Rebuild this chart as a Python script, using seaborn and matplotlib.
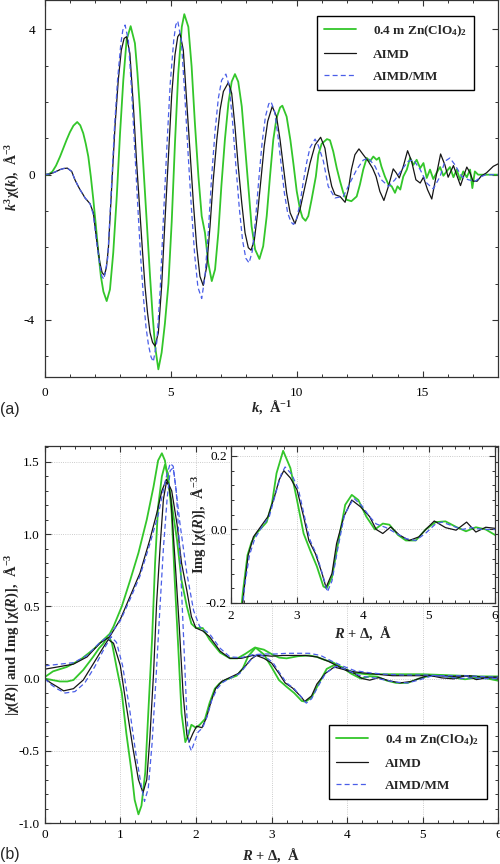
import matplotlib
matplotlib.use("Agg")
import matplotlib.pyplot as plt
import seaborn as sns
from matplotlib.ticker import MultipleLocator, FormatStrFormatter
from matplotlib.lines import Line2D

# ---------------- panel (a): k^3 chi(k) ----------------
k_exp = [0, 0.15, 0.3, 0.45, 0.61, 0.75, 0.87, 1.0, 1.14, 1.29, 1.41, 1.53, 1.63, 1.73, 1.83,
         1.93, 2.03, 2.13, 2.23, 2.33, 2.46, 2.59, 2.72, 2.86, 2.99, 3.12, 3.25, 3.41, 3.58, 3.68,
         3.78, 3.88, 3.98, 4.08, 4.18, 4.28, 4.38, 4.51, 4.64, 4.77, 4.91, 5.04, 5.17, 5.30, 5.44,
         5.54, 5.70, 5.83, 5.96, 6.10, 6.23, 6.36, 6.49, 6.63, 6.76, 6.89, 7.01, 7.15, 7.29, 7.42,
         7.55, 7.68, 7.82, 7.95, 8.08, 8.21, 8.35, 8.52, 8.67, 8.81, 8.94, 9.07, 9.20, 9.34, 9.43,
         9.60, 9.75, 9.87, 10.0, 10.13, 10.23, 10.35, 10.46, 10.59, 10.76, 10.86, 10.99, 11.2, 11.32,
         11.45, 11.59, 11.72, 11.85, 11.98, 12.17, 12.38, 12.51, 12.64, 12.78, 12.91, 13.04, 13.17,
         13.27, 13.36, 13.50, 13.64, 13.77, 13.90, 14.0, 14.11, 14.23, 14.37, 14.50, 14.63, 14.76,
         14.90, 15.03, 15.16, 15.29, 15.42, 15.55, 15.69, 15.82, 15.95, 16.08, 16.22, 16.35, 16.48,
         16.61, 16.75, 16.88, 16.97, 17.07, 17.2, 17.4, 17.7, 18.0]
chi_exp = [0, 0.01, 0.08, 0.25, 0.50, 0.75, 0.96, 1.17, 1.35, 1.45, 1.36, 1.14, 0.85, 0.50, -0.05,
           -0.69, -1.40, -2.15, -2.80, -3.22, -3.48, -3.16, -2.15, -0.60, 1.14, 2.61, 3.71, 4.09, 3.62, 2.80,
           1.79, 0.65, -0.50, -1.65, -2.80, -3.85, -4.72, -5.36, -4.90, -4.10, -3.00, -1.30, 0.88, 2.79, 4.07,
           4.42, 4.07, 2.98, 1.42, -0.05, -1.14, -1.60, -2.43, -2.93, -2.61, -1.60, -0.32, 0.96, 1.97, 2.56,
           2.77, 2.56, 1.88, 0.78, -0.32, -1.42, -2.06, -2.32, -1.97, -1.14, -0.05, 0.96, 1.56, 1.85, 1.90,
           1.60, 0.95, 0.30, -0.45, -0.95, -1.18, -1.27, -1.14, -0.69, -0.05, 0.55, 0.85, 0.98, 0.95,
           0.64, 0.18, -0.18, -0.50, -0.69, -0.73, -0.60, -0.27, 0.14, 0.46, 0.37, 0.50, 0.41,
           0.47, 0.23, -0.05, -0.27, -0.32, -0.50, -0.32, -0.41, -0.05, 0.14, 0.46, 0.27, 0.41,
           0.18, 0.32, -0.09, 0.14, -0.12, 0.05, 0.21, -0.03, 0.09, 0.21, -0.07, 0.14, -0.14,
           0.09, -0.07, 0.14, -0.37, 0.09, 0.0, 0.0, 0.0, 0.0]

k_aimd = [0, 0.2, 0.4, 0.61, 0.75, 0.90, 1.07, 1.20, 1.30, 1.40, 1.50, 1.60, 1.70, 1.80, 1.93, 2.06,
          2.19, 2.28, 2.37, 2.45, 2.53, 2.66, 2.79, 2.92, 3.04, 3.15, 3.25, 3.38, 3.52, 3.64, 3.78,
          3.88, 3.98, 4.08, 4.18, 4.28, 4.38, 4.51, 4.64, 4.77, 4.91, 5.04, 5.17, 5.28, 5.37, 5.50,
          5.63, 5.77, 5.90, 6.03, 6.16, 6.29, 6.43, 6.56, 6.69, 6.83, 6.96, 7.09, 7.29, 7.42, 7.55,
          7.68, 7.82, 7.95, 8.08, 8.19, 8.32, 8.45, 8.58, 8.71, 8.85, 9.03, 9.20, 9.34, 9.47, 9.60,
          9.74, 9.93, 10.13, 10.33, 10.53, 10.73, 10.95, 11.12, 11.25, 11.39, 11.52, 11.72, 11.92,
          12.05, 12.17, 12.31, 12.47, 12.64, 12.84, 13.01, 13.15, 13.30, 13.46, 13.64, 13.83, 13.95,
          14.07, 14.23, 14.40, 14.56, 14.73, 14.90, 15.03, 15.19, 15.36, 15.53, 15.71, 15.88, 16.01,
          16.22, 16.37, 16.50, 16.61, 16.75, 16.88, 17.0, 17.16, 17.32, 17.53, 17.8, 18.0]
chi_aimd = [0, 0.02, 0.07, 0.14, 0.17, 0.18, 0.09, -0.14, -0.28, -0.41, -0.52, -0.64, -0.72, -0.80, -1.05, -1.79,
            -2.43, -2.70, -2.77, -2.55, -2.00, -0.32, 1.33, 2.61, 3.43, 3.75, 3.80, 3.34, 1.88, 0.41, -1.05,
            -2.10, -3.07, -3.80, -4.35, -4.62, -4.72, -4.35, -3.07, -1.30, 0.50, 2.20, 3.30, 3.80, 3.89, 3.43,
            2.06, 0.60, -0.78, -1.97, -2.80, -3.05, -2.52, -1.42, -0.14, 0.96, 1.79, 2.29, 2.54, 2.24, 1.33,
            0.23, -0.78, -1.60, -2.01, -2.08, -1.79, -1.05, -0.14, 0.78, 1.47, 1.88, 1.60, 0.96, 0.23, -0.50,
            -1.05, -1.35, -0.96, -0.32, 0.32, 0.82, 1.03, 0.73, 0.14, -0.32, -0.55, -0.60, -0.76,
            -0.41, 0.14, 0.55, 0.71, 0.55, 0.37, 0.18, -0.05, -0.46, -0.71, -0.32, 0.16, 0.05,
            -0.09, 0.23, 0.66, 0.37, -0.14, -0.23, -0.07, -0.41, -0.67, -0.05, 0.57, 0.27, -0.07,
            0.25, -0.05, -0.30, -0.07, 0.21, 0.05, -0.18, -0.18, -0.04, 0.05, 0.23, 0.30]

k_mm = [0, 0.2, 0.4, 0.61, 0.75, 0.90, 1.07, 1.20, 1.40, 1.60, 1.80, 1.93, 2.06, 2.19, 2.27, 2.35,
        2.50, 2.63, 2.76, 2.89, 3.02, 3.10, 3.19, 3.32, 3.45, 3.58, 3.72, 3.82, 3.92, 4.02, 4.12,
        4.22, 4.31, 4.45, 4.58, 4.71, 4.85, 4.98, 5.12, 5.20, 5.28, 5.42, 5.55, 5.68, 5.82, 5.95,
        6.08, 6.23, 6.36, 6.49, 6.62, 6.76, 6.89, 7.02, 7.19, 7.32, 7.45, 7.58, 7.72, 7.85, 7.98,
        8.11, 8.24, 8.37, 8.50, 8.63, 8.76, 8.89, 8.98, 9.12, 9.25, 9.38, 9.51, 9.64, 9.77, 9.87,
        10.0, 10.13, 10.26, 10.40, 10.53, 10.73, 10.86, 11.06, 11.25, 11.52, 11.85, 12.11, 12.38,
        12.64, 12.84, 13.11, 13.36, 13.64, 13.90, 14.17, 14.43, 14.63, 14.90, 15.16, 15.42, 15.69,
        15.88, 16.08, 16.28, 16.55, 16.81, 17.08, 17.34, 17.5, 18.0]
chi_mm = [0, 0.02, 0.07, 0.14, 0.17, 0.18, 0.09, -0.14, -0.41, -0.64, -0.80, -1.10, -1.85, -2.50, -2.80, -2.88,
          -2.30, -0.60, 1.20, 2.60, 3.60, 3.98, 4.12, 3.70, 2.30, 0.60, -1.20, -2.40, -3.40, -4.20, -4.70,
          -5.02, -5.15, -4.60, -3.20, -1.20, 0.80, 2.50, 3.70, 4.12, 4.23, 3.70, 2.30, 0.70, -0.90, -2.20,
          -3.10, -3.41, -2.80, -1.60, -0.10, 1.20, 2.10, 2.60, 2.77, 2.45, 1.50, 0.30, -0.90, -1.80, -2.30,
          -2.43, -2.10, -1.20, -0.10, 0.90, 1.60, 1.95, 2.01, 1.75, 1.10, 0.30, -0.50, -1.05, -1.30, -1.37,
          -1.20, -0.80, -0.20, 0.35, 0.75, 0.98, 0.80, 0.37, -0.32, -0.64, -0.60, -0.23, 0.14,
          0.40, 0.46, 0.23, -0.14, -0.32, -0.14, 0.14, 0.37, 0.41, 0.14, -0.23, -0.39, -0.05,
          0.37, 0.46, 0.27, -0.05, -0.14, -0.18, -0.05, 0.0, 0.0]

# ---------------- panel (b): |chi(R)| and Img[chi(R)] ----------------
r_mag_exp = [0, 0.11, 0.29, 0.47, 0.64, 0.80, 0.86, 0.91, 1.02, 1.13, 1.24, 1.35, 1.44, 1.50, 1.55, 1.59,
             1.66, 1.75, 1.81, 1.88, 1.94, 2.0, 2.09, 2.18, 2.32, 2.45, 2.55, 2.65, 2.78, 2.9, 3.0, 3.1,
             3.2, 3.35, 3.5, 3.6, 3.7, 3.82, 3.95, 4.1, 4.25, 4.5, 4.75, 5.0, 5.25, 5.5, 5.75, 6.0]
mag_exp = [0.01, 0.05, 0.08, 0.13, 0.20, 0.28, 0.31, 0.36, 0.50, 0.68, 0.87, 1.10, 1.33, 1.51, 1.56, 1.51,
           1.28, 0.96, 0.68, 0.50, 0.38, 0.35, 0.35, 0.27, 0.18, 0.14, 0.14, 0.17, 0.215, 0.20, 0.17, 0.145,
           0.14, 0.155, 0.16, 0.15, 0.13, 0.11, 0.07, 0.04, 0.03, 0.03, 0.03, 0.03, 0.025, 0.02, 0.015, 0.015]

r_mag_aimd = [0, 0.2, 0.38, 0.56, 0.73, 0.86, 1.0, 1.13, 1.26, 1.39, 1.48, 1.55, 1.61, 1.68, 1.75, 1.81,
              1.88, 1.94, 2.0, 2.09, 2.18, 2.32, 2.45, 2.6, 2.75, 2.9, 3.0, 3.15, 3.3, 3.45, 3.6, 3.75,
              3.9, 4.05, 4.2, 4.4, 4.6, 4.8, 5.0, 5.2, 5.4, 5.6, 5.8, 6.0]
mag_aimd = [0.065, 0.083, 0.10, 0.15, 0.245, 0.29, 0.41, 0.57, 0.73, 0.96, 1.14, 1.30, 1.38, 1.30, 1.07, 0.80,
            0.61, 0.43, 0.35, 0.33, 0.29, 0.19, 0.14, 0.14, 0.16, 0.16, 0.155, 0.16, 0.16, 0.16, 0.15, 0.12,
            0.08, 0.05, 0.04, 0.03, 0.02, 0.02, 0.02, 0.02, 0.015, 0.02, 0.01, 0.01]

r_mag_mm = [0, 0.2, 0.38, 0.56, 0.73, 0.86, 1.0, 1.13, 1.26, 1.39, 1.5, 1.6, 1.66, 1.70, 1.79, 1.88,
            1.97, 2.05, 2.18, 2.32, 2.45, 2.6, 2.75, 2.9, 3.05, 3.2, 3.35, 3.5, 3.65, 3.8, 3.95, 4.1,
            4.3, 4.5, 4.75, 5.0, 5.25, 5.5, 5.75, 6.0]
mag_mm = [0.088, 0.10, 0.11, 0.16, 0.25, 0.30, 0.40, 0.55, 0.71, 0.93, 1.13, 1.38, 1.49, 1.47, 1.07, 0.73,
          0.47, 0.36, 0.31, 0.21, 0.15, 0.145, 0.165, 0.17, 0.17, 0.175, 0.175, 0.175, 0.16, 0.12, 0.085, 0.055,
          0.04, 0.03, 0.025, 0.025, 0.02, 0.02, 0.015, 0.01]

r_img_exp = [0, 0.1, 0.2, 0.3, 0.38, 0.51, 0.64, 0.72, 0.78, 0.82, 0.86, 0.89, 0.95, 1.02, 1.08, 1.15,
             1.19, 1.24, 1.28, 1.33, 1.37, 1.42, 1.46, 1.50, 1.55, 1.59, 1.63, 1.68, 1.72, 1.77, 1.81,
             1.86, 1.90, 1.94, 2.0, 2.05, 2.12, 2.18, 2.25, 2.31, 2.38, 2.44, 2.54, 2.62, 2.69, 2.79,
             2.90, 3.0, 3.1, 3.2, 3.30, 3.40, 3.45, 3.53, 3.63, 3.73, 3.83, 3.93, 4.05, 4.18, 4.30,
             4.4, 4.53, 4.65, 4.8, 4.95, 5.1, 5.25, 5.41, 5.56, 5.71, 5.86, 6.0]
img_exp = [0.0, -0.01, -0.02, -0.02, -0.01, 0.06, 0.15, 0.21, 0.245, 0.28, 0.28, 0.245, 0.08, -0.10, -0.38, -0.65,
           -0.84, -0.94, -0.88, -0.65, -0.24, 0.27, 0.80, 1.19, 1.40, 1.48, 1.42, 1.14, 0.68, 0.18, -0.24,
           -0.44, -0.39, -0.32, -0.34, -0.32, -0.28, -0.17, -0.07, -0.035, -0.012, 0.0, 0.02, 0.07, 0.153, 0.214,
           0.167, 0.08, -0.011, -0.057, -0.10, -0.155, -0.16, -0.13, -0.03, 0.067, 0.094, 0.08, 0.035, 0.0, 0.016,
           0.013, -0.015, -0.03, -0.03, 0.0, 0.02, 0.022, 0.007, -0.005, 0.006, 0.0, -0.015]

r_img_aimd = [0, 0.08, 0.16, 0.25, 0.38, 0.51, 0.64, 0.78, 0.84, 0.91, 1.0, 1.08, 1.17, 1.24, 1.30, 1.35,
              1.39, 1.44, 1.48, 1.53, 1.57, 1.61, 1.64, 1.67, 1.72, 1.78, 1.83, 1.88, 1.91, 1.96, 2.01,
              2.08, 2.14, 2.20, 2.26, 2.34, 2.46, 2.56, 2.66, 2.73, 2.80, 2.90, 3.0, 3.10, 3.18, 3.28,
              3.38, 3.44, 3.53, 3.60, 3.71, 3.83, 3.96, 4.1, 4.2, 4.3, 4.42, 4.55, 4.7, 4.85, 4.95,
              5.08, 5.25, 5.41, 5.57, 5.71, 5.86, 6.0]
img_aimd = [0.0, -0.03, -0.055, -0.085, -0.07, -0.01, 0.10, 0.22, 0.27, 0.245, 0.09, -0.19, -0.49, -0.70, -0.79, -0.70,
            -0.42, 0.04, 0.52, 0.94, 1.24, 1.36, 1.34, 1.24, 0.85, 0.36, -0.10, -0.39, -0.44, -0.38, -0.33,
            -0.34, -0.27, -0.16, -0.07, -0.02, 0.01, 0.035, 0.09, 0.135, 0.16, 0.14, 0.108, 0.035, -0.03, -0.066,
            -0.12, -0.158, -0.12, -0.038, 0.035, 0.08, 0.062, 0.035, 0.0, -0.011, 0.007, -0.015, -0.03, -0.02, 0.0,
            0.023, 0.005, -0.002, 0.02, -0.007, 0.006, 0.003]

r_img_mm = [0, 0.08, 0.16, 0.27, 0.4, 0.53, 0.66, 0.8, 0.88, 0.95, 1.03, 1.12, 1.2, 1.27, 1.32, 1.37,
            1.42, 1.47, 1.52, 1.57, 1.62, 1.66, 1.70, 1.74, 1.79, 1.84, 1.88, 1.91, 1.94, 1.98, 2.03,
            2.09, 2.15, 2.21, 2.28, 2.36, 2.48, 2.58, 2.68, 2.76, 2.82, 2.92, 3.02, 3.12, 3.2, 3.3,
            3.4, 3.46, 3.53, 3.62, 3.72, 3.86, 3.98, 4.1, 4.2, 4.35, 4.5, 4.65, 4.8, 4.95, 5.1,
            5.2, 5.35, 5.5, 5.65, 5.8, 6.0]
img_mm = [0.0, -0.04, -0.07, -0.10, -0.09, -0.03, 0.08, 0.22, 0.29, 0.25, 0.09, -0.20, -0.50, -0.72, -0.85, -0.76,
          -0.45, -0.02, 0.45, 0.90, 1.25, 1.44, 1.46, 1.30, 0.85, 0.25, -0.25, -0.46, -0.50, -0.44, -0.37,
          -0.34, -0.26, -0.15, -0.07, -0.025, 0.01, 0.035, 0.10, 0.15, 0.17, 0.15, 0.11, 0.03, -0.03, -0.07,
          -0.13, -0.17, -0.14, -0.05, 0.04, 0.085, 0.065, 0.035, 0.015, 0.005, -0.01, -0.025, -0.03, -0.01, 0.015,
          0.02, 0.01, 0.0, 0.005, 0.0, 0.0]

series_labels = ["0.4 m Zn(ClO$_4$)$_2$", "AIMD", "AIMD/MM"]

# ---------------- style ----------------
sns.set_style("ticks")
plt.rcParams["font.family"] = ["Liberation Serif", "DejaVu Serif"]
plt.rcParams["mathtext.fontset"] = "custom"
plt.rcParams["mathtext.rm"] = "Liberation Serif:bold"
plt.rcParams["mathtext.it"] = "Liberation Serif:italic:bold"
plt.rcParams["mathtext.bf"] = "Liberation Serif:bold"
plt.rcParams["axes.unicode_minus"] = False

GREEN = "#33c62a"
BLACK = "#151515"
BLUE = "#4a5ee8"
DASH = (0, (4, 2.5))

fig = plt.figure(figsize=(5, 8.64), dpi=100)
axA = fig.add_axes([0.0894, 0.5637, 0.9072, 0.4363])
axB = fig.add_axes([0.0894, 0.04745, 0.9072, 0.4363])
axI = fig.add_axes([0.462, 0.3021, 0.528, 0.1817])


def style_axes(ax, pad_x, pad_y):
    for s in ax.spines.values():
        s.set_color("#333333")
        s.set_linewidth(0.9)
    ax.tick_params(which="both", direction="in", top=True, right=True, colors="#333333",
                   labelcolor="black", labelsize=9.5)
    ax.tick_params(which="major", length=4, width=0.8)
    ax.tick_params(which="minor", length=2.5, width=0.7)
    ax.tick_params(axis="x", pad=pad_x)
    ax.tick_params(axis="y", pad=pad_y)
    for lab in ax.get_xticklabels() + ax.get_yticklabels():
        lab.set_family("Liberation Serif")


def draw(ax, x, y, color, lw, ls="-"):
    sns.lineplot(x=x, y=y, ax=ax, color=color, linewidth=lw, linestyle=ls,
                 estimator=None, sort=False, legend=False)


# panel (a)
draw(axA, k_exp, chi_exp, GREEN, 1.3)
draw(axA, k_aimd, chi_aimd, BLACK, 0.9)
draw(axA, k_mm, chi_mm, BLUE, 0.9, DASH)
axA.set_xlim(0, 18)
axA.set_ylim(-5.57, 4.81)
axA.xaxis.set_major_locator(MultipleLocator(5))
axA.xaxis.set_minor_locator(MultipleLocator(1))
axA.yaxis.set_major_locator(MultipleLocator(4))
axA.yaxis.set_minor_locator(MultipleLocator(1))
style_axes(axA, 7, 7)
axA.set_xlabel("$k$,  Å$^{-1}$", fontsize=10.5, fontweight="bold")
axA.set_ylabel("$k^3$χ($k$),  Å$^{-3}$", fontsize=10, fontweight="bold")
axA.xaxis.set_label_coords(0.5, -0.055)
axA.xaxis.label.set_va("top")
axA.yaxis.set_label_coords(-0.052, 0.53)

# panel (b)
for x, y, c, lw, ls in [(r_mag_exp, mag_exp, GREEN, 1.3, "-"), (r_img_exp, img_exp, GREEN, 1.3, "-"),
                        (r_mag_aimd, mag_aimd, BLACK, 0.9, "-"), (r_img_aimd, img_aimd, BLACK, 0.9, "-"),
                        (r_mag_mm, mag_mm, BLUE, 0.9, DASH), (r_img_mm, img_mm, BLUE, 0.9, DASH)]:
    draw(axB, x, y, c, lw, ls)
axB.set_xlim(0, 6)
axB.set_ylim(-1.0, 1.61)
axB.xaxis.set_major_locator(MultipleLocator(1))
axB.xaxis.set_minor_locator(MultipleLocator(0.2))
axB.yaxis.set_major_locator(MultipleLocator(0.5))
axB.yaxis.set_minor_locator(MultipleLocator(0.1))
axB.yaxis.set_major_formatter(FormatStrFormatter("%.1f"))
axB.grid(True, which="major", linestyle=":", color="#bbbbbb", linewidth=0.6)
style_axes(axB, 4, 3.5)
axB.set_xlabel("$R$ + Δ,  Å", fontsize=10.5, fontweight="bold")
axB.set_ylabel("|χ($R$)| and Img [χ($R$)],  Å$^{-3}$", fontsize=10.5, fontweight="bold")
axB.xaxis.set_label_coords(0.5, -0.062)
axB.xaxis.label.set_va("top")
axB.yaxis.set_label_coords(-0.052, 0.5)

# inset
draw(axI, r_img_exp, img_exp, GREEN, 1.3)
draw(axI, r_img_aimd, img_aimd, BLACK, 0.9)
draw(axI, r_img_mm, img_mm, BLUE, 0.9, DASH)
axI.set_facecolor("white")
axI.set_xlim(2, 6)
axI.set_ylim(-0.2, 0.227)
axI.xaxis.set_major_locator(MultipleLocator(1))
axI.xaxis.set_minor_locator(MultipleLocator(0.2))
axI.yaxis.set_major_locator(MultipleLocator(0.2))
axI.yaxis.set_minor_locator(MultipleLocator(0.04))
axI.yaxis.set_major_formatter(FormatStrFormatter("%.1f"))
axI.grid(True, which="major", linestyle=":", color="#bbbbbb", linewidth=0.6)
style_axes(axI, 5, 3)
axI.set_xlabel("$R$ + Δ,  Å", fontsize=10.5, fontweight="bold")
axI.set_ylabel("Img [χ($R$)],  Å$^{-3}$", fontsize=10.5, fontweight="bold")
axI.xaxis.set_label_coords(0.5, -0.135)
axI.xaxis.label.set_va("top")
axI.yaxis.set_label_coords(-0.088, 0.5)

# legends
handles = [Line2D([], [], color=GREEN, lw=1.3),
           Line2D([], [], color=BLACK, lw=0.9),
           Line2D([], [], color=BLUE, lw=0.9, linestyle=DASH)]
leg_kw = dict(prop={"family": "Liberation Serif", "weight": "bold", "size": 9.5},
              frameon=True, fancybox=False, framealpha=1, edgecolor="black",
              handlelength=2.4, handletextpad=1.3, labelspacing=0.75, borderpad=0.55,
              borderaxespad=0, loc="upper left")
legA = axA.legend(handles, series_labels, bbox_to_anchor=(0.60, 0.958), **leg_kw)
legA.get_frame().set_linewidth(1.0)
legB = axB.legend(handles, series_labels, bbox_to_anchor=(0.627, 0.26), **leg_kw)
legB.get_frame().set_linewidth(1.0)

fig.text(0.0, 1 - 410 / 864, "(a)", fontsize=11.5, family="Liberation Sans", va="center", ha="left")
fig.text(0.0, 1 - 855 / 864, "(b)", fontsize=11.5, family="Liberation Sans", va="center", ha="left")

fig.savefig("out.png", dpi=100)
